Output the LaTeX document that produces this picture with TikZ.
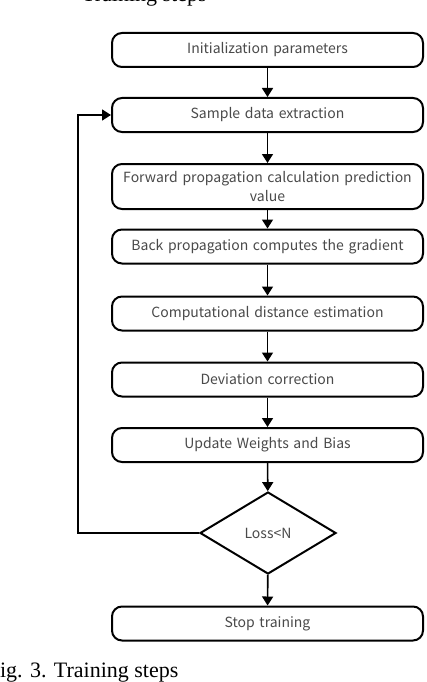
\documentclass[tikz,border=0pt]{standalone}
\usepackage{fontspec}
\setmainfont{Liberation Serif}
\newfontfamily\boxfont{Noto Sans CJK SC}
\usetikzlibrary{shapes.geometric,arrows.meta}
\definecolor{txtgray}{HTML}{4A4A4A}
\tikzset{
  stepbox/.style={draw=black, line width=2pt, rounded corners=10pt, minimum width=311pt,
    minimum height=34pt, inner sep=2pt, align=center, text width=300pt,
    font=\boxfont\fontsize{14}{19}\selectfont, text=txtgray},
  decbox/.style={draw=black, line width=2pt, shape=diamond, minimum width=136pt,
    minimum height=82pt, inner sep=0pt, font=\boxfont\fontsize{14}{19}\selectfont, text=txtgray},
  flow/.style={line width=1.6pt, -{Triangle[length=9pt,width=11pt]}},
  captext/.style={font=\fontsize{22}{24}\selectfont, inner sep=0pt, anchor=base west}
}
\begin{document}
\begin{tikzpicture}[x=1pt,y=-1pt]
\useasboundingbox (0,0) rectangle (426,682);
\clip (0,0) rectangle (426,682);
\fill[white] (0,0) rectangle (426,682);
\node[captext] (toptext) at (82,2) {Training steps};
\node[stepbox] (s1) at (267.5,50) {Initialization parameters};
\node[stepbox] (s2) at (267.5,115) {Sample data extraction};
\node[stepbox, minimum height=45pt] (s3) at (267.5,186.5) {Forward propagation calculation prediction\\value};
\node[stepbox] (s4) at (267.5,246.5) {Back propagation computes the gradient};
\node[stepbox] (s5) at (267.5,313.5) {Computational distance estimation};
\node[stepbox] (s6) at (267.5,379.5) {Deviation correction};
\node[stepbox] (s7) at (267.5,445) {Update Weights and Bias};
\node[decbox] (d) at (268,533) {Loss<N};
\node[stepbox] (s8) at (267.5,623.5) {Stop training};
\node[captext] (caption) at (-12.3,677) {Fig. 3. Training steps};
\coordinate (loop) at (78,533);
\draw[flow] (s1) -- (s2);
\draw[flow] (s2) -- (s3);
\draw[flow] (s3) -- (s4);
\draw[flow] (s4) -- (s5);
\draw[flow] (s5) -- (s6);
\draw[flow] (s6) -- (s7);
\draw[flow] (s7) -- (d);
\draw[flow] (d) -- (s8);
\draw[flow] (d.west) -- (loop) |- (s2.west);
\end{tikzpicture}
\end{document}
